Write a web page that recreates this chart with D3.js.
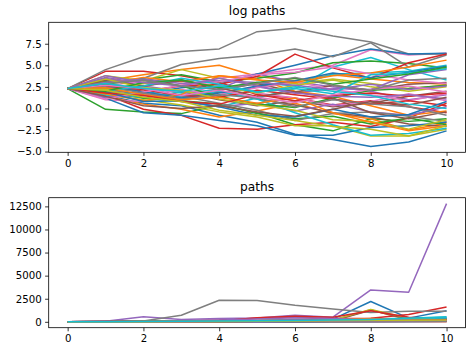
<!DOCTYPE html>
<html>
<head>
<meta charset="utf-8">
<script src="https://cdn.jsdelivr.net/npm/d3@7"></script>
<style>
  body { margin: 0; background: #fff; }
  text { font-family: "DejaVu Sans", sans-serif; fill: #000; }
</style>
</head>
<body>
<svg id="chart" width="474" height="353"></svg>
<script>
// step index on the x axis
const steps = [0, 1, 2, 3, 4, 5, 6, 7, 8, 9, 10];
const xTicks = [0, 2, 4, 6, 8, 10];

// top panel: log paths (one row per path)
const logPaths = [
    [2.3, 1.5, 0.6, 0.3, -0.8, -1.6, -3.0, -3.6, -4.4, -3.9, -2.6],
    [2.3, 3.2, 3.9, 4.5, 5.0, 3.7, 3.2, 3.9, 3.4, 3.0, 2.8],
    [2.3, -0.1, -0.4, -0.6, 0.4, -0.5, -1.9, -2.6, -1.2, -1.5, -1.2],
    [2.3, 4.3, 4.3, 3.8, 3.0, 1.6, 1.2, 0.4, 0.9, 0.2, -0.5],
    [2.3, 3.6, 2.9, 3.3, 2.3, 4.0, 3.1, 2.5, 2.0, 1.0, 1.6],
    [2.3, 1.8, 1.2, 1.9, 1.0, 0.3, 0.9, 0.2, 0.6, 1.4, 2.0],
    [2.3, 2.6, 3.2, 2.7, 3.5, 4.0, 4.5, 5.0, 6.8, 6.2, 6.4],
    [2.3, 4.5, 6.0, 6.6, 6.9, 8.9, 9.3, 8.4, 7.7, 6.3, 6.3],
    [2.3, 3.8, 3.2, 4.5, 3.5, 2.7, 2.9, 3.4, 2.9, 2.3, 2.7],
    [2.3, 1.9, 1.2, 0.8, 0.2, 1.2, 2.3, 4.8, 5.9, 4.5, 3.3],
    [2.3, 2.0, 1.7, 2.4, 2.8, 4.0, 5.0, 6.1, 6.9, 6.3, 6.4],
    [2.3, 1.4, 0.5, -0.1, -1.0, -0.3, 0.6, -0.6, -1.2, -2.5, -1.7],
    [2.3, 3.1, 3.3, 3.9, 3.1, 3.5, 4.1, 5.3, 5.5, 5.2, 4.7],
    [2.3, 1.6, -0.1, -0.8, -2.3, -2.4, -1.9, -1.6, -2.1, -1.1, 0.6],
    [2.3, 3.5, 2.6, 2.0, 1.5, 2.5, 1.8, 2.3, 2.2, 3.9, 4.5],
    [2.3, 2.8, 2.2, 1.4, 1.9, 1.1, 0.4, -0.5, -1.0, -1.8, -2.1],
    [2.3, 1.0, 0.8, 1.6, 2.7, 1.8, 1.2, 0.3, 0.8, 1.7, 0.9],
    [2.3, 3.0, 3.5, 5.1, 5.8, 6.2, 6.9, 6.0, 7.6, 4.8, 6.2],
    [2.3, 1.6, 1.0, 0.4, -0.4, -1.0, -2.0, -2.0, -3.2, -3.2, -2.4],
    [2.3, 2.7, 2.4, 1.8, 2.2, 3.0, 2.6, 4.0, 4.1, 4.3, 5.0],
    [2.3, 1.2, -0.5, -0.8, -1.4, -2.0, -3.1, -3.1, -2.2, -2.0, -1.6],
    [2.3, 2.9, 3.6, 3.1, 3.8, 3.4, 2.0, 1.4, 0.3, -0.8, -0.3],
    [2.3, 2.4, 1.2, 0.9, 0.5, -0.6, -1.2, -0.9, -1.8, -1.1, -1.9],
    [2.3, 2.5, 2.0, 2.6, 2.8, 3.7, 6.3, 4.7, 3.5, 5.3, 6.3],
    [2.3, 1.3, 1.7, 0.9, 0.2, 0.6, -0.3, 0.5, -0.4, -0.8, 0.2],
    [2.3, 3.3, 2.6, 3.2, 2.1, 2.9, 1.9, 2.7, 2.1, 2.8, 3.0],
    [2.3, 2.1, 1.4, 2.2, 1.6, 2.4, 3.1, 2.2, 1.6, 0.9, 1.7],
    [2.3, 1.7, 2.3, 1.4, 0.6, -0.2, -1.4, -0.6, -0.4, -0.9, -1.5],
    [2.3, 2.2, 2.9, 3.3, 2.5, 1.8, 2.7, 3.3, 2.5, 2.0, 2.5],
    [2.3, 1.5, 1.9, 1.3, 2.0, 1.1, -0.5, -1.9, -3.1, -2.9, -2.3],
    [2.3, 2.6, 1.9, 1.2, 1.8, 2.6, 3.2, 4.1, 3.6, 4.2, 4.9],
    [2.3, 1.7, 0.9, 1.6, 3.8, 3.3, 3.0, 3.8, 4.1, 4.8, 5.6],
    [2.3, 2.8, 3.4, 2.6, 1.4, 0.5, 0.1, 1.2, 2.1, 2.3, 2.7],
    [2.3, 2.6, 2.2, 1.5, 1.3, 2.1, 1.6, 1.1, 0.5, 0.9, 0.3],
    [2.3, 3.0, 3.4, 2.9, 3.2, 3.0, 2.7, 2.2, 2.8, 2.2, 2.6],
    [2.3, 1.9, 2.6, 3.3, 2.4, 1.4, 1.9, 1.2, -0.5, -1.2, -0.4],
    [2.3, 1.1, 1.9, 2.7, 3.1, 3.9, 4.2, 4.8, 4.0, 3.3, 2.9],
    [2.3, 2.5, 1.8, 1.1, 1.6, 1.2, 0.2, 1.0, 0.5, 0.2, -0.8],
    [2.3, 3.4, 2.4, 2.1, 1.1, 0.4, -0.2, -1.3, -1.5, -2.4, -1.3],
    [2.3, 2.0, 2.6, 3.5, 2.8, 1.9, 2.3, 1.7, 3.9, 4.1, 4.6],
    [2.3, 1.9, 0.8, 0.9, 0.2, -0.8, -1.0, -0.1, -1.0, -0.7, 0.8],
    [2.3, 2.4, 1.6, 1.0, 1.3, 0.6, 1.2, -0.5, -1.6, -2.6, -2.0],
    [2.3, 2.0, 3.0, 3.3, 2.4, 3.0, 3.5, 2.8, 3.4, 4.0, 4.8],
    [2.3, 1.8, 1.5, 0.8, 0.5, 1.6, 0.9, 1.5, 1.8, 1.4, 1.8],
    [2.3, 3.8, 3.0, 2.6, 3.5, 2.6, 1.8, 1.4, 1.3, 1.6, 1.1],
    [2.3, 1.4, 0.3, 0.0, 0.3, -0.4, -0.9, -0.1, 0.8, 0.4, 1.3],
    [2.3, 2.7, 2.3, 1.5, 2.1, 1.3, 0.7, 1.6, 2.2, 2.6, 1.9],
    [2.3, 2.9, 3.3, 2.6, 2.2, 2.9, 3.6, 2.7, 2.1, 3.3, 3.5],
    [2.3, 2.1, 1.3, 0.8, -0.2, -0.8, -1.4, -2.1, -2.4, -3.2, -2.0],
    [2.3, 2.9, 2.3, 2.0, 2.6, 1.9, 2.5, 2.0, 1.5, 0.5, 0.0]
];
const logTicks = [-5, -2.5, 0, 2.5, 5, 7.5];

// bottom panel: paths
const paths = [
    [10, 25, 40, 60, 120, 150, 220, 300, 2200, 400, 1200],
    [10, 15, 30, 25, 60, 100, 80, 150, 1300, 200, 250],
    [10, 6, 12, 20, 15, 30, 60, 40, 100, 60, 120],
    [10, 30, 60, 120, 200, 400, 500, 350, 400, 800, 1600],
    [10, 60, 540, 250, 350, 420, 700, 500, 3450, 3200, 12800],
    [10, 20, 15, 35, 60, 40, 90, 120, 1250, 300, 200],
    [10, 5, 8, 15, 10, 25, 30, 20, 40, 60, 35],
    [10, 50, 100, 720, 2330, 2300, 1800, 1400, 1000, 1150, 1150],
    [10, 25, 50, 80, 70, 150, 260, 200, 1350, 400, 300],
    [10, 15, 30, 40, 60, 80, 120, 200, 250, 350, 500],
    [10, 8, 12, 20, 30, 50, 70, 60, 90, 120, 200],
    [10, 20, 30, 45, 40, 60, 90, 120, 100, 80, 150],
    [10, 15, 25, 20, 40, 70, 60, 120, 200, 150, 250],
    [10, 12, 30, 50, 80, 450, 600, 500, 1200, 500, 300],
    [10, 5, 10, 8, 15, 20, 40, 30, 50, 70, 60],
    [10, 25, 40, 30, 45, 60, 50, 80, 150, 200, 100],
    [10, 12, 20, 40, 60, 100, 150, 90, 60, 120, 180],
    [10, 20, 15, 25, 30, 20, 35, 40, 80, 120, 60],
    [10, 6, 4, 8, 12, 10, 20, 15, 30, 25, 40],
    [10, 20, 40, 60, 90, 120, 200, 150, 300, 400, 450],
    [10, 15, 20, 30, 25, 40, 50, 80, 60, 100, 90],
    [10, 8, 15, 12, 20, 30, 25, 40, 35, 50, 45],
    [10, 20, 30, 25, 50, 80, 60, 100, 90, 70, 110],
    [10, 12, 20, 30, 40, 35, 60, 80, 100, 150, 200],
    [10, 25, 50, 90, 200, 300, 450, 350, 300, 200, 350],
    [10, 6, 10, 15, 12, 20, 25, 30, 45, 40, 60],
    [10, 15, 30, 50, 70, 120, 180, 150, 100, 140, 120],
    [10, 5, 8, 10, 6, 8, 15, 12, 20, 30, 25],
    [10, 18, 25, 40, 30, 55, 80, 70, 120, 100, 90],
    [10, 12, 8, 15, 20, 35, 60, 50, 90, 130, 200],
    [10, 20, 25, 40, 60, 90, 150, 120, 200, 250, 180],
    [10, 15, 20, 30, 60, 100, 150, 200, 350, 250, 130],
    [10, 8, 12, 25, 40, 60, 45, 70, 100, 150, 240],
    [10, 20, 25, 35, 50, 80, 120, 90, 150, 200, 170],
    [10, 12, 15, 20, 30, 40, 35, 50, 70, 60, 80],
    [10, 25, 35, 50, 90, 120, 160, 200, 180, 220, 150],
    [10, 6, 10, 8, 12, 20, 15, 25, 30, 45, 40],
    [10, 15, 25, 20, 35, 50, 80, 60, 90, 140, 100],
    [10, 20, 35, 50, 45, 70, 120, 150, 200, 300, 250],
    [10, 12, 20, 35, 50, 45, 70, 100, 160, 220, 350],
    [10, 8, 6, 10, 15, 12, 20, 25, 35, 30, 50],
    [10, 20, 30, 45, 70, 100, 130, 180, 150, 120, 100],
    [10, 15, 25, 40, 35, 60, 90, 70, 110, 180, 150],
    [10, 12, 18, 25, 40, 60, 90, 130, 200, 180, 260],
    [10, 25, 40, 60, 80, 120, 200, 160, 250, 200, 150],
    [10, 8, 15, 20, 30, 25, 40, 50, 70, 90, 80],
    [10, 15, 12, 20, 25, 40, 60, 50, 80, 100, 120],
    [10, 20, 30, 25, 40, 60, 50, 80, 100, 90, 70],
    [10, 15, 20, 30, 45, 70, 100, 140, 180, 160, 200],
    [10, 20, 35, 50, 80, 120, 150, 200, 260, 400, 550]
];
const pathTicks = [0, 2500, 5000, 7500, 10000, 12500];

const colors = ['#1f77b4', '#ff7f0e', '#2ca02c', '#d62728', '#9467bd',
                '#8c564b', '#e377c2', '#7f7f7f', '#bcbd22', '#17becf'];

const svg = d3.select('#chart');

// pad the extent by 5% on each side, like matplotlib does
function padded(rows) {
    const lo = d3.min(rows, r => d3.min(r));
    const hi = d3.max(rows, r => d3.max(r));
    const m = (hi - lo) * 0.05;
    return [lo - m, hi + m];
}

function drawPanel(box, rows, yTicks, yFormat, title) {
    const x = d3.scaleLinear().domain([-0.5, 10.5]).range([box.left, box.right]);
    const y = d3.scaleLinear().domain(padded(rows)).range([box.bottom, box.top]);

    const g = svg.append('g');

    const line = d3.line()
        .x((d, i) => x(steps[i]))
        .y(d => y(d));

    g.selectAll('.path-line')
        .data(rows)
        .enter().append('path')
        .attr('class', 'path-line')
        .attr('d', line)
        .attr('fill', 'none')
        .attr('stroke', (d, i) => colors[i % colors.length])
        .attr('stroke-width', 1.5)
        .attr('stroke-linejoin', 'round');

    // axes
    const xAxis = g.append('g')
        .attr('transform', `translate(0,${box.bottom})`)
        .call(d3.axisBottom(x).tickValues(xTicks).tickSize(3.6).tickPadding(3.4).tickFormat(d3.format('d')));
    const yAxis = g.append('g')
        .attr('transform', `translate(${box.left},0)`)
        .call(d3.axisLeft(y).tickValues(yTicks).tickSize(3.6).tickPadding(3.4).tickFormat(yFormat));

    [xAxis, yAxis].forEach(a => {
        a.select('.domain').remove();
        a.selectAll('line').attr('stroke', '#000').attr('stroke-width', 0.8);
        a.selectAll('text')
            .attr('fill', '#000')
            .style('font-family', '"DejaVu Sans", sans-serif')
            .style('font-size', '10.2px');
    });

    // frame
    g.append('rect')
        .attr('x', box.left)
        .attr('y', box.top)
        .attr('width', box.right - box.left)
        .attr('height', box.bottom - box.top)
        .attr('fill', 'none')
        .attr('stroke', '#000')
        .attr('stroke-width', 0.8);

    // title
    g.append('text')
        .attr('x', (box.left + box.right) / 2)
        .attr('y', box.top - 7)
        .attr('text-anchor', 'middle')
        .style('font-size', '12.2px')
        .text(title);
}

drawPanel({ left: 48.7, right: 465.5, top: 22.3, bottom: 152.3 },
    logPaths, logTicks, d3.format('.1f'), 'log paths');
drawPanel({ left: 48.7, right: 465.5, top: 197.7, bottom: 327.7 },
    paths, pathTicks, d3.format('d'), 'paths');
</script>
</body>
</html>
